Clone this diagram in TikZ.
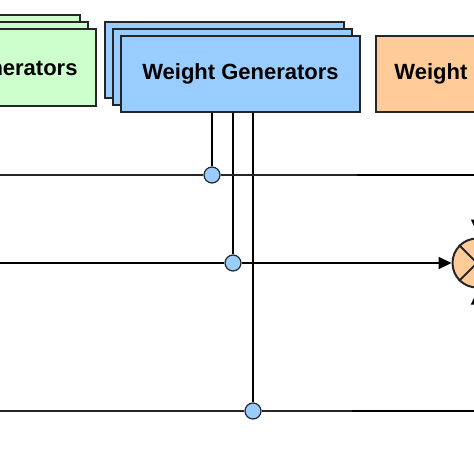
\documentclass[tikz,border=0pt]{standalone}
\usepackage{fontspec}
\setmainfont{Liberation Sans}
\usetikzlibrary{arrows.meta,shadows}
\definecolor{gengreen}{HTML}{CCFFCC}
\definecolor{genblue}{HTML}{99CCFF}
\definecolor{genorange}{HTML}{FFCC99}
\definecolor{linegray}{HTML}{262626}
\begin{document}
\begin{tikzpicture}[x=1pt,y=-1pt,
	box/.style={draw=linegray,line width=1.5pt,minimum width=239pt,minimum height=76pt,inner sep=0pt},
	stack/.style={double copy shadow={shadow xshift=-8pt,shadow yshift=7pt}},
	txt/.style={font=\fontsize{22}{26}\selectfont\bfseries,inner sep=0pt},
	junc/.style={circle,draw=linegray,fill=genblue,line width=1.2pt,minimum size=16pt,inner sep=0pt},
	wire/.style={line width=1.5pt,draw=linegray},
	tip/.style={-{Triangle[length=13pt,width=12pt]}}]
		% frame
		\useasboundingbox (0,0) rectangle (474,474);
		\clip (0,0) rectangle (474,474);
		% Generator boxes
		\node[box,stack,fill=gengreen,minimum height=77pt] (gg) at (-23.5,67.5) {};
		\node[txt,anchor=east] (ggtext) at ([xshift=-19pt]gg.east) {Generators};
		\node[box,stack,fill=genblue,txt] (wg) at (240.5,74) {Weight Generators};
		\node[box,fill=genorange] (wo) at (495.5,74) {};
		\node[txt,anchor=west] (wotext) at ([xshift=19pt]wo.west) {Weight};
		% Junctions
		\node[junc] (j1) at (212,175) {};
		\node[junc] (j2) at (233,263) {};
		\node[junc] (j3) at (253,411) {};
		% Multiplier
		\node[circle,draw=linegray,fill=genorange,line width=2pt,minimum size=49pt,inner sep=0pt] (mul) at (477,263) {};
		\draw[line width=1.8pt,linegray] (mul.north west) -- (mul.south east) (mul.north east) -- (mul.south west);
		% Wire ends
		\coordinate (l1) at (0,175);
		\coordinate (t1) at (357,175);
		\coordinate (r1) at (474,175);
		\coordinate (l2) at (0,263);
		\coordinate (l3) at (0,411);
		\coordinate (t3) at (352,411);
		\coordinate (r3) at (474,411);
		\coordinate (m1) at (477,180);
		\coordinate (m2) at (477,345);
		% Vertical wires
		\draw[wire,draw=black] (wg.south -| j1) -- (j1);
		\draw[wire,draw=black] (wg.south -| j2) -- (j2);
		\draw[wire,draw=black] (wg.south -| j3) -- (j3);
		% Horizontal wires
		\draw[wire] (l1) -- (j1);
		\draw[wire] (j1) -- (r1);
		\draw[wire,line width=2.5pt,draw=black] (t1) -- (r1);
		\draw[wire,line width=2pt,draw=black] (l2) -- (j2);
		\draw[wire,line width=2pt,draw=black,tip] (j2) -- (mul);
		\draw[wire] (l3) -- (j3);
		\draw[wire] (j3) -- (r3);
		\draw[wire,line width=2.5pt,draw=black] (t3) -- (r3);
		% Into multiplier
		\draw[wire,draw=black,tip,shorten >=5pt] (m1) -- (mul.north);
		\draw[wire,draw=black,tip,shorten >=3pt] (m2) -- (mul.south);
\end{tikzpicture}
\end{document}
